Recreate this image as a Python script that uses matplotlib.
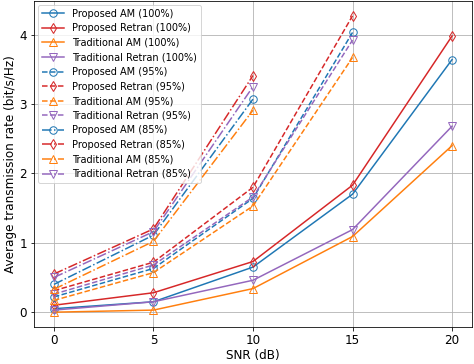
import numpy as np
import matplotlib
matplotlib.use("Agg")
import matplotlib.pyplot as plt

# SNR points (dB)
snr = [0, 5, 10, 15, 20]

# 100% reliability (solid)
prop_am_100 = [0.05, 0.15, 0.65, 1.70, 3.64]
prop_rt_100 = [0.10, 0.28, 0.73, 1.83, 3.98]
trad_am_100 = [0.00, 0.03, 0.34, 1.09, 2.40]
trad_rt_100 = [0.03, 0.15, 0.46, 1.19, 2.68]

# 95% reliability (dashed), up to 15 dB
prop_am_95 = [0.22, 0.63, 1.64, 4.03, np.nan]
prop_rt_95 = [0.31, 0.72, 1.80, 4.27, np.nan]
trad_am_95 = [0.17, 0.57, 1.53, 3.67, np.nan]
trad_rt_95 = [0.26, 0.68, 1.66, 3.92, np.nan]

# 85% reliability (dash-dot), up to 10 dB
prop_am_85 = [0.40, 1.11, 3.07, np.nan, np.nan]
prop_rt_85 = [0.55, 1.20, 3.41, np.nan, np.nan]
trad_am_85 = [0.33, 1.02, 2.91, np.nan, np.nan]
trad_rt_85 = [0.50, 1.16, 3.25, np.nan, np.nan]

blue, red, orange, purple = '#1f77b4', '#d62728', '#ff7f0e', '#9467bd'

fig = plt.figure(figsize=(474 / 72, 364 / 72), dpi=72)
ax = fig.add_axes([34 / 474, 37 / 364, 438 / 474, 326 / 364])

groups = [
    ('100%', '-', [prop_am_100, prop_rt_100, trad_am_100, trad_rt_100]),
    ('95%', '--', [prop_am_95, prop_rt_95, trad_am_95, trad_rt_95]),
    ('85%', '-.', [prop_am_85, prop_rt_85, trad_am_85, trad_rt_85]),
]
names = ['Proposed AM', 'Proposed Retran', 'Traditional AM', 'Traditional Retran']
colors = [blue, red, orange, purple]
markers = ['o', 'd', '^', 'v']

for tag, ls, series in groups:
    for name, vals, c, m in zip(names, series, colors, markers):
        ax.plot(snr, vals, linestyle=ls, color=c, marker=m, markersize=7.5,
                markerfacecolor='none', linewidth=1.5, label=f'{name} ({tag})')

ax.set_xticks(snr)
ax.tick_params(labelsize=12)
ax.set_xlabel('SNR (dB)', fontsize=12, labelpad=2)
ax.set_ylabel('Average transmission rate (bit/s/Hz)', fontsize=12, labelpad=2)
ax.grid(True)
ax.legend(loc='upper left', fontsize=9.7, labelspacing=0.47, borderaxespad=0.4,
          handlelength=2.3)

fig.savefig('out.png', dpi=72)
